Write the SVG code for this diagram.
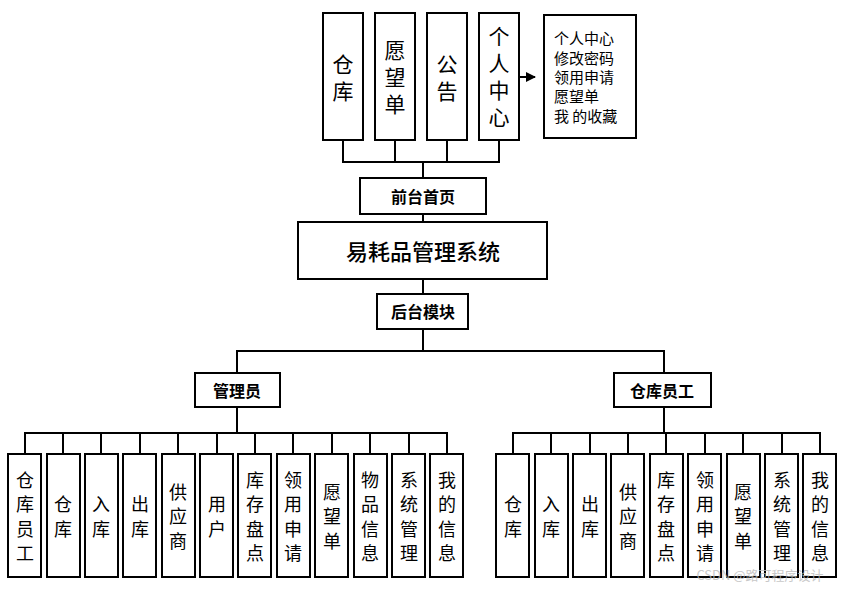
<svg xmlns="http://www.w3.org/2000/svg" width="846" height="590" viewBox="0 0 846 590">
<style>
.b{fill:#fff;stroke:#000;stroke-width:2}
.c{fill:none;stroke:#000;stroke-width:2}
text{font-family:"Noto Sans CJK SC",sans-serif;fill:#000;text-anchor:middle;dominant-baseline:central}
.t{font-size:21px}
.s{font-size:18px}
.h{font-size:16px;font-weight:bold}
.l{font-size:15px;text-anchor:start}
</style>
<defs><marker id="a" markerWidth="10" markerHeight="10" refX="9" refY="5" orient="auto" markerUnits="userSpaceOnUse"><path d="M0,0L10,5L0,10z"/></marker></defs>
<rect width="846" height="590" fill="#fff"/>
<g id="connectors">
<path class="c" d="M343,140V162M395,140V162M447,140V162M499,140V162M342,162H500M423,162V178M423,214V222M423,279V294M423,329V351M236,351H665M237,351V373M664,351V373M237,407V433M24,433H448M664,407V433M512,433H821"/>
<path class="c" d="M25,433V454M63,433V454M101,433V454M140,433V454M178,433V454M217,433V454M255,433V454M293,433V454M332,433V454M370,433V454M409,433V454M447,433V454"/>
<path class="c" d="M513,433V454M551,433V454M590,433V454M628,433V454M666,433V454M705,433V454M743,433V454M782,433V454M820,433V454"/>
<path class="c" d="M519,77H535" marker-end="url(#a)"/>
</g>
<g id="top-cangku"><rect class="b" x="323" y="13" width="40" height="127"/><text class="t" x="343" y="63">仓</text><text class="t" x="343" y="90">库</text></g>
<g id="top-yuanwang"><rect class="b" x="375" y="13" width="40" height="127"/><text class="t" x="395" y="49">愿</text><text class="t" x="395" y="76">望</text><text class="t" x="395" y="103">单</text></g>
<g id="top-gonggao"><rect class="b" x="427" y="13" width="40" height="127"/><text class="t" x="447" y="63">公</text><text class="t" x="447" y="90">告</text></g>
<g id="top-geren"><rect class="b" x="479" y="13" width="40" height="127"/><text class="t" x="499" y="35">个</text><text class="t" x="499" y="62">人</text><text class="t" x="499" y="89">中</text><text class="t" x="499" y="116">心</text></g>
<g id="geren-list"><rect class="b" x="544" y="15" width="92" height="123"/>
<text class="l" x="554" y="37">个人中心</text><text class="l" x="554" y="57">修改密码</text><text class="l" x="554" y="76">领用申请</text><text class="l" x="554" y="95">愿望单</text><text class="l" x="554" y="115">我 的收藏</text></g>
<g id="qiantai"><rect class="b" x="360" y="178" width="126" height="36"/><text class="h" x="423" y="196">前台首页</text></g>
<g id="main"><rect class="b" x="298" y="222" width="249" height="57"/><text x="423" y="250" style="font-size:22px;font-weight:500">易耗品管理系统</text></g>
<g id="houtai"><rect class="b" x="377" y="294" width="91" height="35"/><text class="h" x="423" y="311">后台模块</text></g>
<g id="admin"><rect class="b" x="195" y="373" width="85" height="34"/><text class="h" x="237" y="390">管理员</text></g>
<g id="staff"><rect class="b" x="614" y="373" width="97" height="34"/><text class="h" x="662" y="390">仓库员工</text></g>
<g id="a1"><rect class="b" x="8" y="454" width="33" height="123"/><text class="s" x="25" y="479">仓</text><text class="s" x="25" y="503">库</text><text class="s" x="25" y="528">员</text><text class="s" x="25" y="552">工</text></g>
<g id="a2"><rect class="b" x="47" y="454" width="33" height="123"/><text class="s" x="63" y="503">仓</text><text class="s" x="63" y="528">库</text></g>
<g id="a3"><rect class="b" x="85" y="454" width="33" height="123"/><text class="s" x="101" y="503">入</text><text class="s" x="101" y="528">库</text></g>
<g id="a4"><rect class="b" x="123" y="454" width="33" height="123"/><text class="s" x="140" y="503">出</text><text class="s" x="140" y="528">库</text></g>
<g id="a5"><rect class="b" x="162" y="454" width="33" height="123"/><text class="s" x="178" y="491">供</text><text class="s" x="178" y="515">应</text><text class="s" x="178" y="540">商</text></g>
<g id="a6"><rect class="b" x="200" y="454" width="33" height="123"/><text class="s" x="217" y="503">用</text><text class="s" x="217" y="528">户</text></g>
<g id="a7"><rect class="b" x="238" y="454" width="33" height="123"/><text class="s" x="255" y="479">库</text><text class="s" x="255" y="503">存</text><text class="s" x="255" y="528">盘</text><text class="s" x="255" y="552">点</text></g>
<g id="a8"><rect class="b" x="277" y="454" width="33" height="123"/><text class="s" x="293" y="479">领</text><text class="s" x="293" y="503">用</text><text class="s" x="293" y="528">申</text><text class="s" x="293" y="552">请</text></g>
<g id="a9"><rect class="b" x="315" y="454" width="33" height="123"/><text class="s" x="332" y="491">愿</text><text class="s" x="332" y="515">望</text><text class="s" x="332" y="540">单</text></g>
<g id="a10"><rect class="b" x="354" y="454" width="33" height="123"/><text class="s" x="370" y="479">物</text><text class="s" x="370" y="503">品</text><text class="s" x="370" y="528">信</text><text class="s" x="370" y="552">息</text></g>
<g id="a11"><rect class="b" x="392" y="454" width="33" height="123"/><text class="s" x="409" y="479">系</text><text class="s" x="409" y="503">统</text><text class="s" x="409" y="528">管</text><text class="s" x="409" y="552">理</text></g>
<g id="a12"><rect class="b" x="430" y="454" width="33" height="123"/><text class="s" x="447" y="479">我</text><text class="s" x="447" y="503">的</text><text class="s" x="447" y="528">信</text><text class="s" x="447" y="552">息</text></g>
<g id="s1"><rect class="b" x="496" y="454" width="33" height="123"/><text class="s" x="513" y="503">仓</text><text class="s" x="513" y="528">库</text></g>
<g id="s2"><rect class="b" x="535" y="454" width="33" height="123"/><text class="s" x="551" y="503">入</text><text class="s" x="551" y="528">库</text></g>
<g id="s3"><rect class="b" x="573" y="454" width="33" height="123"/><text class="s" x="590" y="503">出</text><text class="s" x="590" y="528">库</text></g>
<g id="s4"><rect class="b" x="611" y="454" width="33" height="123"/><text class="s" x="628" y="491">供</text><text class="s" x="628" y="515">应</text><text class="s" x="628" y="540">商</text></g>
<g id="s5"><rect class="b" x="650" y="454" width="33" height="123"/><text class="s" x="666" y="479">库</text><text class="s" x="666" y="503">存</text><text class="s" x="666" y="528">盘</text><text class="s" x="666" y="552">点</text></g>
<g id="s6"><rect class="b" x="688" y="454" width="33" height="123"/><text class="s" x="705" y="479">领</text><text class="s" x="705" y="503">用</text><text class="s" x="705" y="528">申</text><text class="s" x="705" y="552">请</text></g>
<g id="s7"><rect class="b" x="727" y="454" width="33" height="123"/><text class="s" x="743" y="491">愿</text><text class="s" x="743" y="515">望</text><text class="s" x="743" y="540">单</text></g>
<g id="s8"><rect class="b" x="765" y="454" width="33" height="123"/><text class="s" x="782" y="479">系</text><text class="s" x="782" y="503">统</text><text class="s" x="782" y="528">管</text><text class="s" x="782" y="552">理</text></g>
<g id="s9"><rect class="b" x="803" y="454" width="33" height="123"/><text class="s" x="820" y="479">我</text><text class="s" x="820" y="503">的</text><text class="s" x="820" y="528">信</text><text class="s" x="820" y="552">息</text></g>
<text x="760" y="574" style="font-size:13px;fill:#bbb;opacity:0.8">CSDN @路可程序设计</text>
</svg>
